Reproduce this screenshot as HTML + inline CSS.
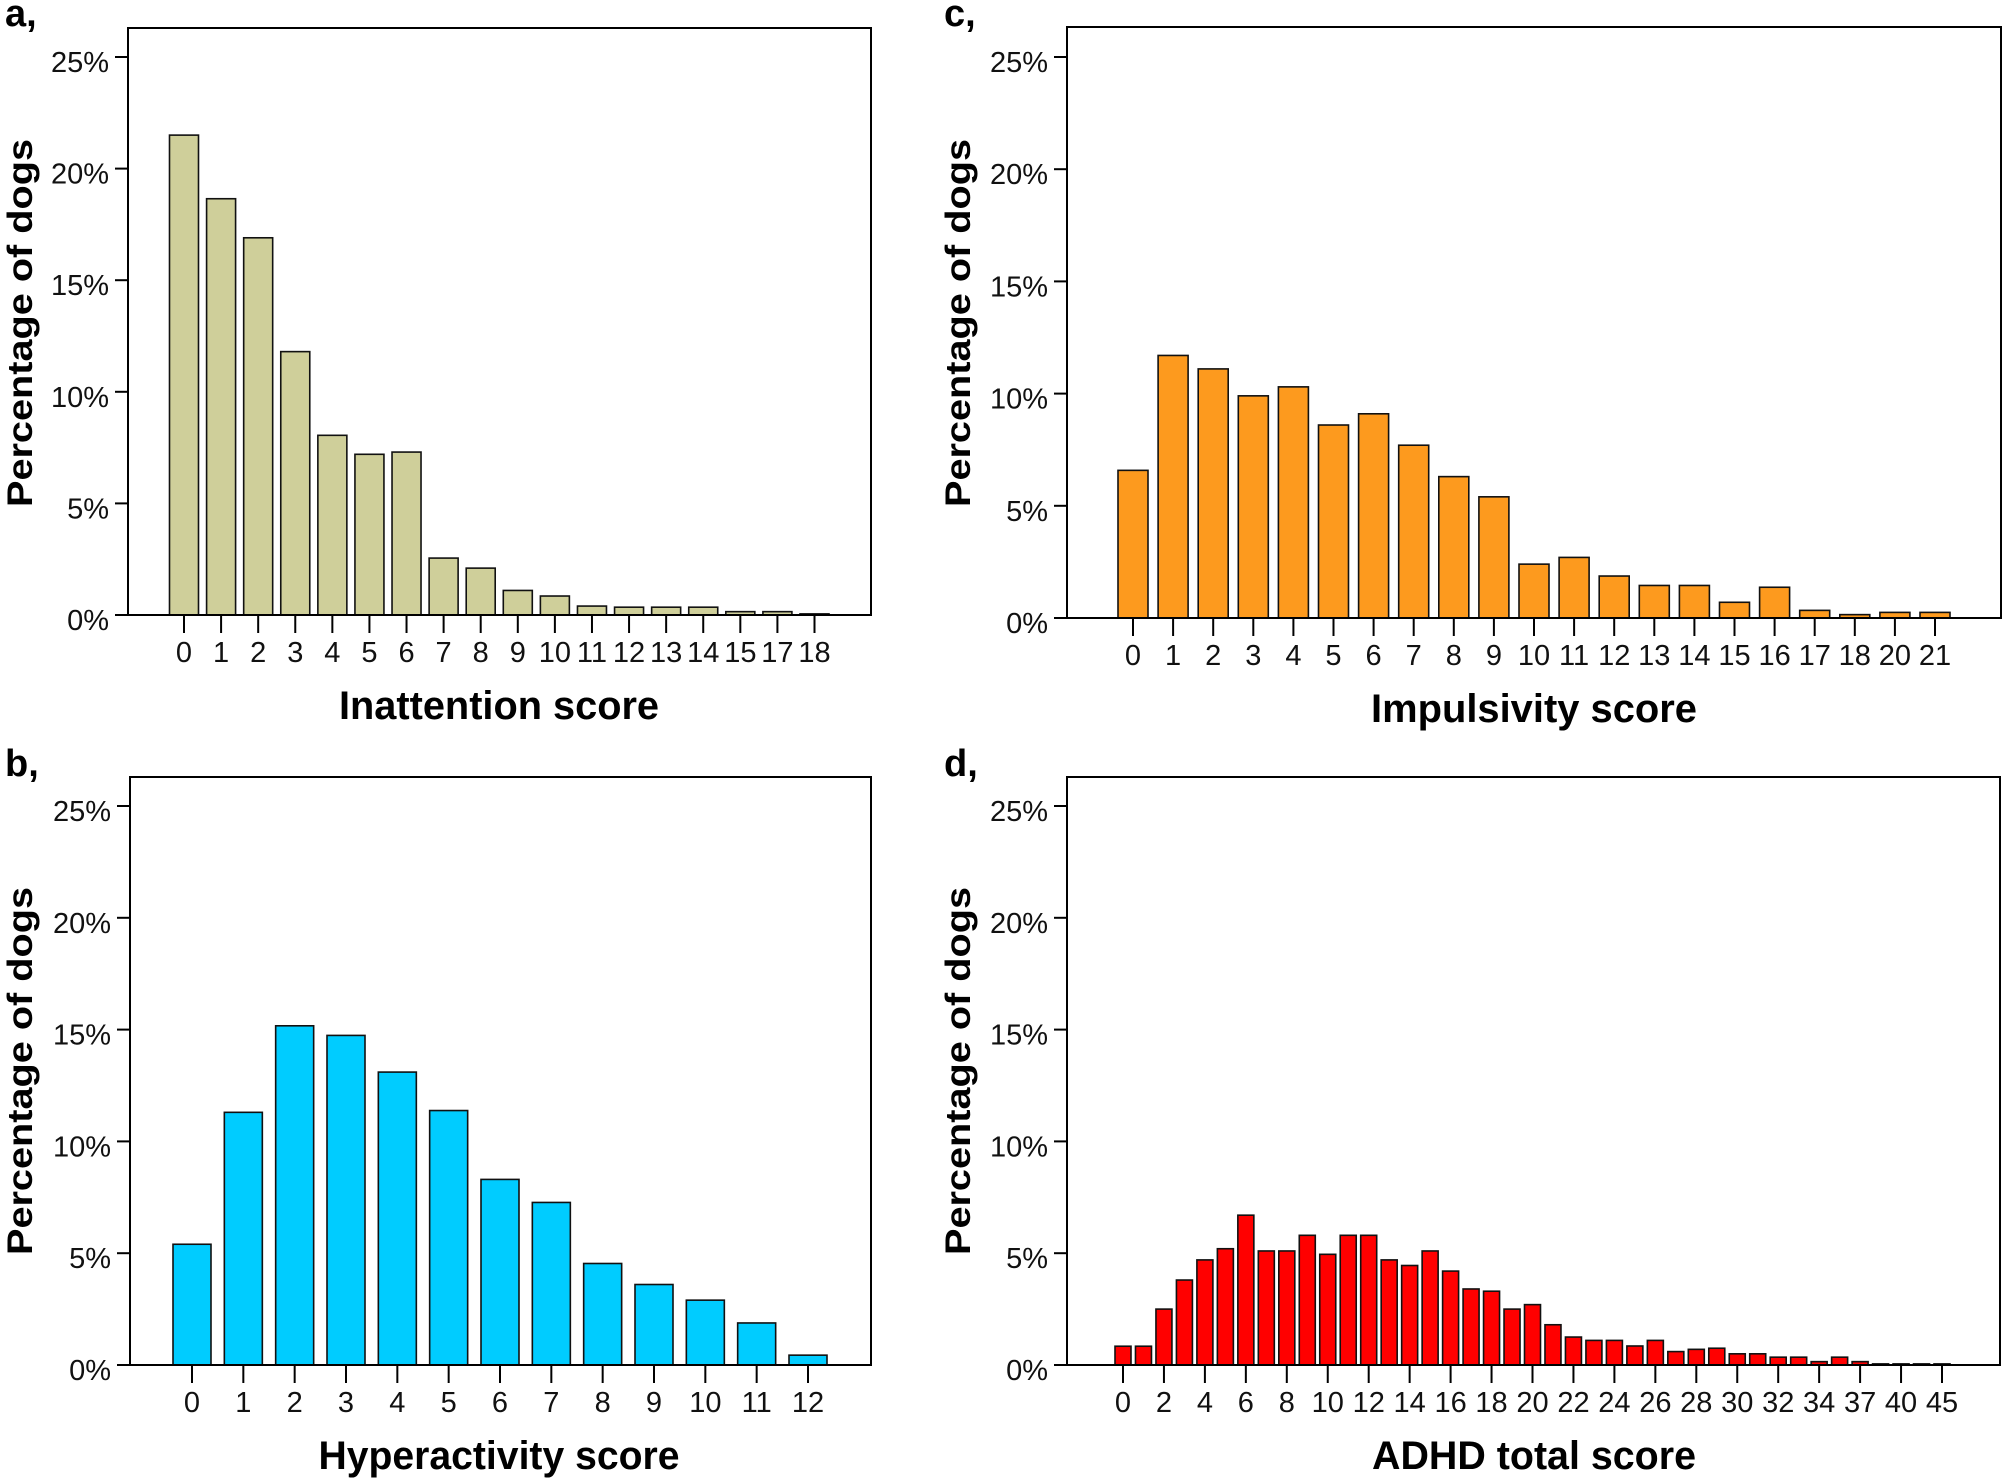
<!DOCTYPE html>
<html><head><meta charset="utf-8"><style>
html,body{margin:0;padding:0;background:#fff;}
svg{display:block;}
.tk{font-family:"Liberation Sans Narrow","Liberation Sans",sans-serif;font-stretch:condensed;font-size:29px;fill:#111;}
.tt{font-family:"Liberation Sans Narrow","Liberation Sans",sans-serif;font-stretch:condensed;font-weight:bold;font-size:40px;fill:#000;}
.yt{font-family:"Liberation Sans",sans-serif;font-weight:bold;font-size:35px;fill:#000;}
.pl{font-family:"Liberation Sans",sans-serif;font-weight:bold;font-size:38px;fill:#000;}
</style></head><body>
<svg id="fig" width="2007" height="1478" viewBox="0 0 2007 1478" xmlns="http://www.w3.org/2000/svg"></svg>
<script>
// Panel a: Inattention
const catsA = ["0","1","2","3","4","5","6","7","8","9","10","11","12","13","14","15","17","18"];
const valsA = [21.5,18.65,16.9,11.8,8.05,7.2,7.3,2.55,2.1,1.1,0.85,0.4,0.35,0.35,0.35,0.15,0.15,0.05];
// Panel c: Impulsivity
const catsC = ["0","1","2","3","4","5","6","7","8","9","10","11","12","13","14","15","16","17","18","20","21"];
const valsC = [6.58,11.7,11.1,9.9,10.3,8.6,9.1,7.7,6.3,5.4,2.4,2.7,1.87,1.45,1.45,0.7,1.37,0.34,0.15,0.25,0.25];
// Panel b: Hyperactivity
const catsB = ["0","1","2","3","4","5","6","7","8","9","10","11","12"];
const valsB = [5.4,11.3,15.17,14.74,13.1,11.38,8.3,7.27,4.54,3.6,2.9,1.88,0.44];
// Panel d: ADHD total
const catsD = ["0","1","2","3","4","5","6","7","8","9","10","11","12","13","14","15","16","17","18","19","20","21","22","23","24","25","26","27","28","29","30","31","32","33","34","35","37","39","40","43","45"];
const valsD = [0.84,0.84,2.5,3.8,4.7,5.2,6.7,5.1,5.1,5.8,4.95,5.8,5.8,4.7,4.45,5.1,4.2,3.4,3.3,2.5,2.7,1.8,1.25,1.1,1.1,0.85,1.1,0.6,0.7,0.75,0.5,0.5,0.35,0.35,0.15,0.35,0.15,0.05,0.05,0.05,0.05];
const yTicks = [0,5,10,15,20,25];
const yTickLabels = ["0%","5%","10%","15%","20%","25%"];

const NS="http://www.w3.org/2000/svg";
const svg=document.getElementById('fig');
function mk(tag,attrs,parent){const e=document.createElementNS(NS,tag);for(const k in attrs)e.setAttribute(k,attrs[k]);(parent||svg).appendChild(e);return e;}

function panel(o){
  const g=mk('g',{});
  
  
  const y=v=>o.y0-(o.y0-o.y25)*v/25;
  const n=o.cats.length;
  const x=i=>o.c0+(o.c1-o.c0)*i/(n-1);
  // frame
  const fr=mk('rect',{x:o.L,y:o.T,width:o.R-o.L,height:o.y0-o.T,fill:'none',stroke:'#000','stroke-width':2},g);
  
  
  // y ticks
  yTicks.forEach((t,i)=>{
    const tl=mk('line',{x1:o.L-13,x2:o.L,y1:y(t),y2:y(t),stroke:'#000','stroke-width':2},g);
    
    
    const tx=mk('text',{x:o.L-19,y:y(t)+15,'text-anchor':'end',class:'tk'},g);
    tx.textContent=yTickLabels[i];
    
    
  });
  // bars
  o.vals.forEach((v,i)=>{
    const b=mk('rect',{x:x(i)-o.bw/2,y:y(v),width:o.bw,height:o.y0-y(v),fill:o.color,stroke:'#111','stroke-width':1.6},g);
    
    
  });
  // x ticks and labels
  o.cats.forEach((c,i)=>{
    if(o.every && i%o.every!==0) return;
    const tl=mk('line',{x1:x(i),x2:x(i),y1:o.y0,y2:o.y0+18,stroke:'#000','stroke-width':2},g);
    
    
    const tx=mk('text',{x:x(i),y:o.y0+47,'text-anchor':'middle',class:'tk'},g);
    tx.textContent=c;
    
    
  });
  // axis baseline
  const ax=mk('line',{x1:o.L,x2:o.R,y1:o.y0,y2:o.y0,stroke:'#000','stroke-width':2},g);
  
  
  // x title
  const xt=mk('text',{x:o.xtX,y:o.y0+104,'text-anchor':'middle',class:'tt',textLength:o.xtW,lengthAdjust:'spacingAndGlyphs'},g);
  xt.textContent=o.xtitle;
  
  
  // y title
  const yt=mk('text',{x:0,y:0,'text-anchor':'middle',class:'yt',textLength:368,lengthAdjust:'spacingAndGlyphs',transform:'translate('+(o.ytX)+','+(o.ytY)+') rotate(-90)'},g);
  yt.textContent='Percentage of dogs';
  
  
  // panel label
  const pl=mk('text',{x:o.plX,y:o.plY,class:'pl'},g);
  pl.textContent=o.label;
  
  
}

panel({key:'inattention',cats:catsA,vals:valsA,color:'#cfcf9a',L:128,R:871,T:28,y0:615,y25:57,c0:184,c1:814.5,bw:29,xtitle:'Inattention score',xtX:499,xtW:320,ytX:32,ytY:323,plX:5,plY:26,label:'a,'});
panel({key:'impulsivity',cats:catsC,vals:valsC,color:'#fd9a1e',L:1067,R:2001,T:27,y0:618,y25:57,c0:1133,c1:1935,bw:30,xtitle:'Impulsivity score',xtX:1534,xtW:326,ytX:970,ytY:323,plX:944,plY:26,label:'c,'});
panel({key:'hyperactivity',cats:catsB,vals:valsB,color:'#00ccff',L:130,R:871,T:777,y0:1365,y25:806,c0:192,c1:808,bw:38,xtitle:'Hyperactivity score',xtX:499,xtW:361,ytX:32,ytY:1071,plX:5,plY:776,label:'b,'});
panel({key:'adhd-total',cats:catsD,vals:valsD,color:'#ff0000',L:1067,R:2000,T:777,y0:1365,y25:806,c0:1123,c1:1942,bw:16,every:2,xtitle:'ADHD total score',xtX:1534,xtW:324,ytX:970,ytY:1071,plX:944,plY:776,label:'d,'});
</script>
</body></html>
